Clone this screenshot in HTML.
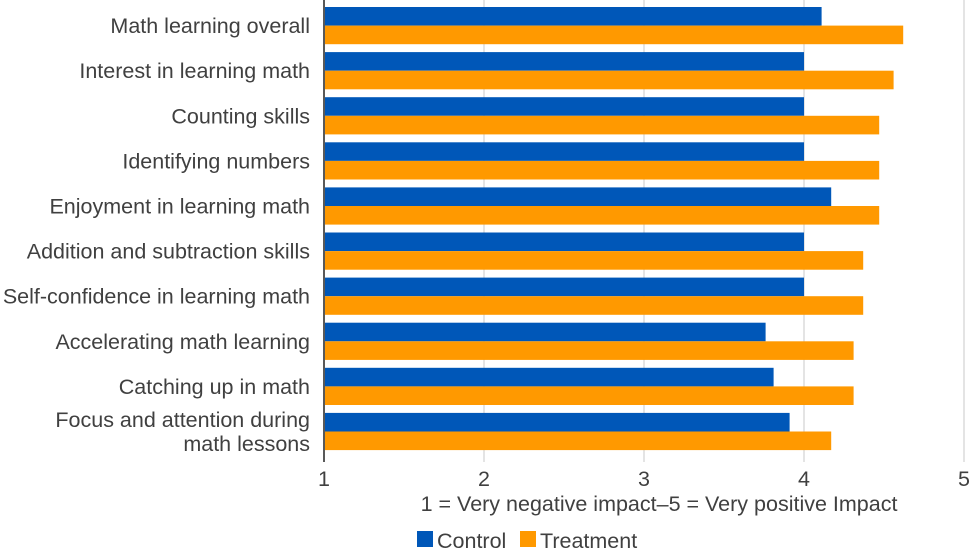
<!DOCTYPE html>
<html><head><meta charset="utf-8"><style>
body{margin:0;background:#fff;width:971px;height:550px;overflow:hidden;font-family:"Liberation Sans",Arial,sans-serif}
svg text{font-family:"Liberation Sans",Arial,sans-serif;fill:#404040}
</style></head><body>
<svg id="chart" width="971" height="550"></svg>
<script>
const categories=["Math learning overall","Interest in learning math","Counting skills","Identifying numbers","Enjoyment in learning math","Addition and subtraction skills","Self-confidence in learning math","Accelerating math learning","Catching up in math","Focus and attention during|math lessons"];
const controlValues=[4.11,4.0,4.0,4.0,4.17,4.0,4.0,3.76,3.81,3.91];
const treatmentValues=[4.62,4.56,4.47,4.47,4.47,4.37,4.37,4.31,4.31,4.17];
const tickLabels=[1,2,3,4,5];
const NS="http://www.w3.org/2000/svg";
const svg=document.getElementById('chart');
const x=v=>324+(v-1)*160;
const y0=7,pitch=45.1,bh=18.6,fs=21.5;
function mk(t,a,txt){const e=document.createElementNS(NS,t);for(const k in a)e.setAttribute(k,a[k]);if(txt!==undefined)e.textContent=txt;svg.appendChild(e);return e;}
tickLabels.forEach(t=>{
 if(t>1){const g=mk('line',{x1:x(t),x2:x(t),y1:0,y2:462,stroke:'#c8c8c8','stroke-width':1});
 
 }
 const l=mk('text',{x:x(t),y:486,'text-anchor':'middle','font-size':fs},t);
 
 
});
categories.forEach((c,i)=>{
 const top=y0+i*pitch;
 const b1=mk('rect',{x:x(1),y:top,width:x(controlValues[i])-x(1),height:bh,fill:'#0057B8'});
 
 
 const b2=mk('rect',{x:x(1),y:top+bh,width:x(treatmentValues[i])-x(1),height:bh,fill:'#FF9900'});
 
 
 const parts=c.split('|');
 parts.forEach((p,j)=>{
  const cy=top+bh+7.5+(j-(parts.length-1)/2)*24;
  const t=mk('text',{x:310,y:cy,'text-anchor':'end','font-size':fs},p);
  
  
 });
});
const ax=mk('line',{x1:324,x2:324,y1:0,y2:462,stroke:'#595959','stroke-width':2});


const at=mk('text',{x:659,y:511,'text-anchor':'middle','font-size':fs},'1 = Very negative impact\u20135 = Very positive Impact');


const l1=mk('rect',{x:417,y:531,width:16,height:16,fill:'#0057B8'});


const t1=mk('text',{x:437,y:548,'font-size':fs},'Control');


const l2=mk('rect',{x:520,y:531,width:16,height:16,fill:'#FF9900'});


const t2=mk('text',{x:540,y:548,'font-size':fs},'Treatment');


</script>
</body></html>
